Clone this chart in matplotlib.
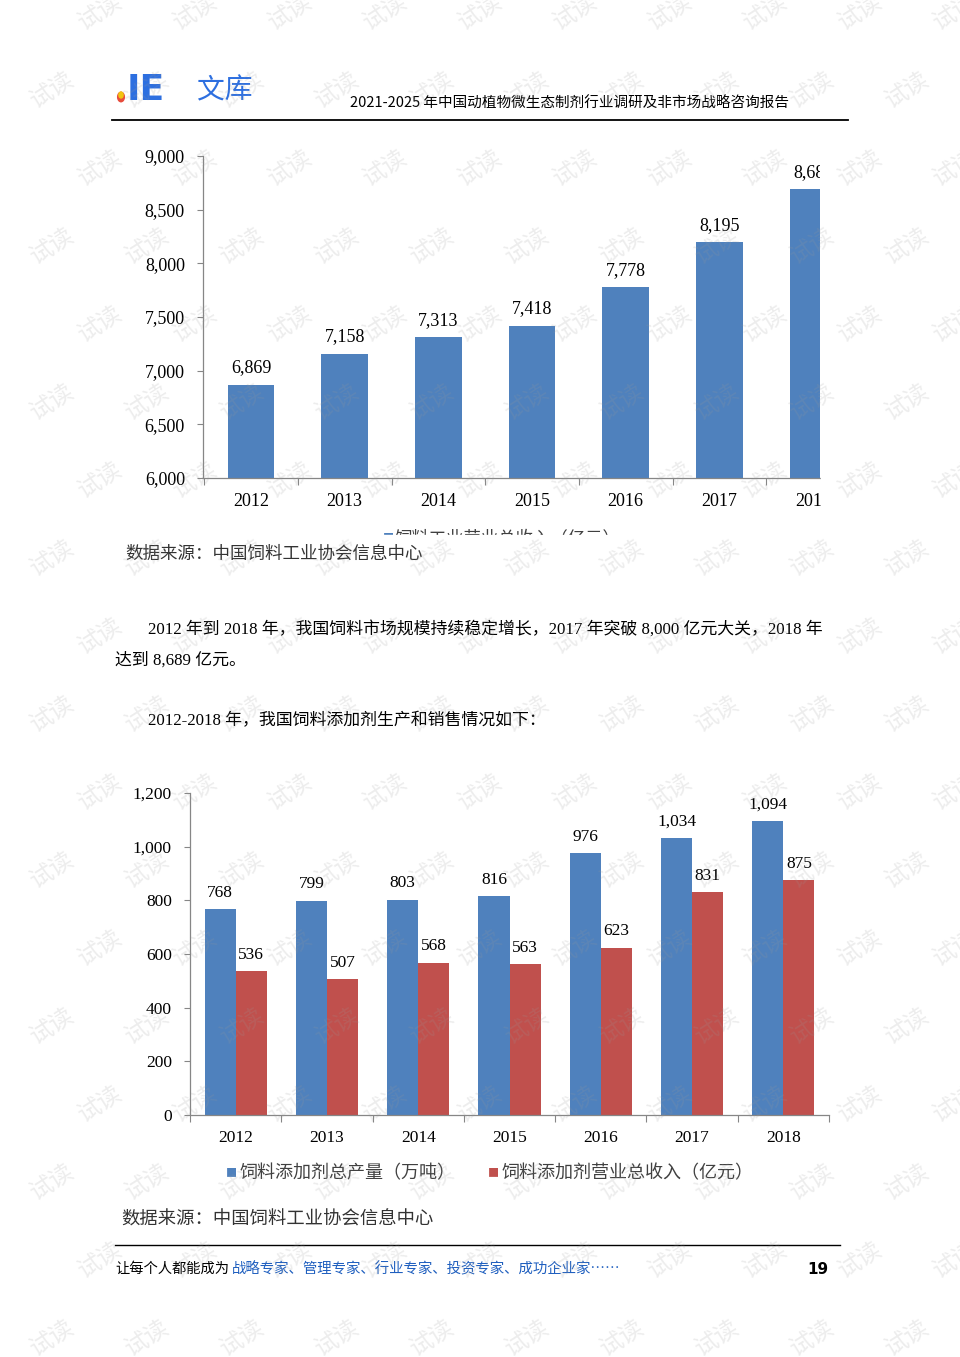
import matplotlib
matplotlib.use("Agg")
import matplotlib.pyplot as plt
from matplotlib.patches import Rectangle, Circle
from matplotlib.ticker import FuncFormatter, FixedLocator

plt.rcParams['font.family'] = ['Liberation Serif', 'Noto Sans CJK SC', 'DejaVu Sans']

years = ['2012', '2013', '2014', '2015', '2016', '2017', '2018']
feed_revenue = [6869, 7158, 7313, 7418, 7778, 8195, 8689]
additive_output = [768, 799, 803, 816, 976, 1034, 1094]
additive_revenue = [536, 507, 568, 563, 623, 831, 875]

BLUE = '#4F81BD'
RED = '#C0504D'
GRID = '#868686'
W, H = 960, 1357
SANS = ['Noto Sans CJK SC', 'DejaVu Sans']
MIX = ['Liberation Serif', 'Noto Sans CJK SC']


def fx(x):
    return x / W


def fy(y):
    return 1 - y / H


def box(l, t, r, b):
    return [fx(l), fy(b), (r - l) / W, (b - t) / H]


def style_axes(ax, ypad):
    for s in ['top', 'right']:
        ax.spines[s].set_visible(False)
    for s in ['left', 'bottom']:
        ax.spines[s].set_color(GRID)
        ax.spines[s].set_linewidth(0.9)
    ax.tick_params(axis='y', which='major', length=4, color=GRID, pad=ypad)
    ax.tick_params(axis='x', which='major', length=5, color=GRID, labelbottom=False)
    ax.tick_params(axis='x', which='minor', length=0, pad=11)
    ax.set_facecolor('none')


fig = plt.figure(figsize=(9.6, 13.57), dpi=100)

# header
fig.add_artist(Circle((fx(121), fy(97)), 0.0035, transform=fig.transFigure,
                      color='#e74c3c', zorder=3))
fig.add_artist(Circle((fx(121), fy(95)), 0.0022, transform=fig.transFigure,
                      color='#f1c40f', zorder=3))
fig.text(fx(127), fy(90), 'IE', fontsize=26, fontweight='bold', color='#2d6fe0',
         family=['DejaVu Sans'], va='center', ha='left')
fig.text(fx(197), fy(90), '文库', fontsize=20, color='#2d6fe0', family=SANS,
         va='center', ha='left')
fig.text(fx(350), fy(104), '2021-2025 年中国动植物微生态制剂行业调研及非市场战略咨询报告',
         fontsize=10.5, family=SANS, va='center', ha='left')
fig.add_artist(plt.Line2D([fx(112), fx(848)], [fy(120), fy(120)], color='black', lw=1.3))

# chart 1
ax1 = fig.add_axes(box(203, 156, 820, 478))
x = list(range(len(years)))
ax1.bar(x, feed_revenue, width=0.5, color=BLUE, zorder=2)
ax1.set_ylim(6000, 9000)
ax1.set_xlim(-0.513, 6.074)
ax1.yaxis.set_major_locator(FixedLocator(range(6000, 9001, 500)))
ax1.yaxis.set_major_formatter(FuncFormatter(lambda v, p: f'{int(v):,}'))
ax1.xaxis.set_major_locator(FixedLocator([i + 0.5 for i in range(-1, 7)]))
ax1.set_xticks(x, years, minor=True)
style_axes(ax1, 9)
ax1.tick_params(labelsize=13)
ax1.tick_params(axis='x', which='minor', labelsize=13)
for i, v in enumerate(feed_revenue):
    ax1.annotate(f'{v:,}', (i, v), xytext=(0, 6), textcoords='offset points',
                 ha='center', va='bottom', fontsize=13, clip_on=True)

fig.text(fx(383), fy(538), '■', color=BLUE, fontsize=8, va='center', ha='left', family=SANS)
fig.text(fx(395), fy(538), '饲料工业营业总收入（亿元）', fontsize=12.5, va='center', ha='left',
         family=SANS, color='#404040')
fig.add_artist(Rectangle((fx(821), fy(540)), (900 - 821) / W, (540 - 140) / H,
                         transform=fig.transFigure, color='white', zorder=5))
fig.add_artist(Rectangle((fx(360), fy(549)), (660 - 360) / W, (549 - 535) / H,
                         transform=fig.transFigure, color='white', zorder=5))
fig.text(fx(125), fy(554), '数据来源：中国饲料工业协会信息中心', fontsize=12.6,
         family=SANS, va='center', ha='left', color='#333333', zorder=6)

# body text
fig.text(fx(148), fy(629), '2012 年到 2018 年，我国饲料市场规模持续稳定增长，2017 年突破 8,000 亿元大关，2018 年',
         fontsize=12.2, family=MIX, va='center', ha='left')
fig.text(fx(115), fy(660), '达到 8,689 亿元。', fontsize=12.2, family=MIX, va='center', ha='left')
fig.text(fx(148), fy(721), '2012-2018 年，我国饲料添加剂生产和销售情况如下：', fontsize=12.2,
         family=MIX, va='center', ha='left')

# chart 2
ax2 = fig.add_axes(box(190, 793, 829, 1115))
bw = 0.34
xb = [i - bw / 2 for i in x]
xr = [i + bw / 2 for i in x]
ax2.bar(xb, additive_output, width=bw, color=BLUE, zorder=2)
ax2.bar(xr, additive_revenue, width=bw, color=RED, zorder=2)
ax2.set_ylim(0, 1200)
ax2.set_xlim(-0.5, 6.5)
ax2.yaxis.set_major_locator(FixedLocator(range(0, 1201, 200)))
ax2.yaxis.set_major_formatter(FuncFormatter(lambda v, p: f'{int(v):,}'))
ax2.xaxis.set_major_locator(FixedLocator([i + 0.5 for i in range(-1, 7)]))
ax2.set_xticks(x, years, minor=True)
style_axes(ax2, 9)
ax2.tick_params(labelsize=12.5)
ax2.tick_params(axis='x', which='minor', labelsize=12.5)
for i in x:
    ax2.annotate(f'{additive_output[i]:,}', (xb[i], additive_output[i]), xytext=(0, 6),
                 textcoords='offset points', ha='center', va='bottom', fontsize=12.5)
    ax2.annotate(f'{additive_revenue[i]:,}', (xr[i], additive_revenue[i]), xytext=(0, 6),
                 textcoords='offset points', ha='center', va='bottom', fontsize=12.5)

fig.text(fx(226), fy(1173), '■', color=BLUE, fontsize=8, va='center', ha='left', family=SANS)
fig.text(fx(240), fy(1173), '饲料添加剂总产量（万吨）', fontsize=13.0, va='center', ha='left',
         family=SANS, color='#404040')
fig.text(fx(488), fy(1173), '■', color=RED, fontsize=8, va='center', ha='left', family=SANS)
fig.text(fx(502), fy(1173), '饲料添加剂营业总收入（亿元）', fontsize=13.0, va='center', ha='left',
         family=SANS, color='#404040')
fig.text(fx(121), fy(1220), '数据来源：中国饲料工业协会信息中心', fontsize=13.2,
         family=SANS, va='center', ha='left', color='#333333')

# footer
fig.add_artist(plt.Line2D([fx(115), fx(840)], [fy(1245), fy(1245)], color='black', lw=1.0))
fig.text(fx(115), fy(1269), '让每个人都能成为', fontsize=10.3, family=SANS, va='center', ha='left')
fig.text(fx(232), fy(1269), '战略专家、管理专家、行业专家、投资专家、成功企业家……', fontsize=10.4,
         family=SANS, va='center', ha='left', color='#1f5fbf')
fig.text(fx(828), fy(1269), '19', fontsize=11, fontweight='bold', family=['DejaVu Sans'],
         va='center', ha='right')

# watermark
for r in range(18):
    yy = 12 + 78 * r
    x0 = 100 if r % 2 == 0 else 52
    for c in range(10):
        xx = x0 + 95 * c
        fig.text(fx(xx), fy(yy), '试读', fontsize=17, family=SANS, color='#999999',
                 alpha=0.18, rotation=32, ha='center', va='center', zorder=10)

fig.savefig('out.png', dpi=100)
